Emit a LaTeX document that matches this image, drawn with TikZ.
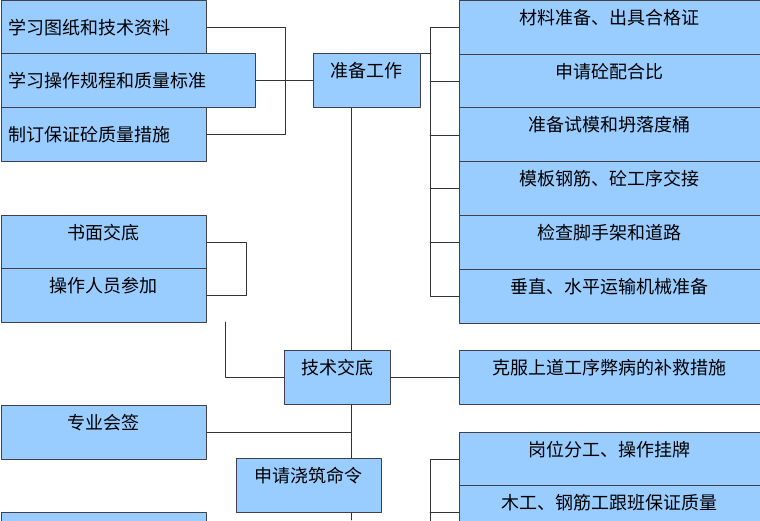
\documentclass[tikz,border=0pt]{standalone}
\usepackage{fontspec}
\newfontfamily\cjk{Noto Sans CJK SC}
\definecolor{boxblue}{rgb}{0.6,0.8,1.}
\definecolor{edgegray}{rgb}{0.25,0.25,0.3}

\begin{document}
\begin{tikzpicture}[x=1pt,y=-1pt,line cap=round,line join=round]
\tikzset{box/.style={draw=edgegray,fill=boxblue,line width=0.9pt,anchor=north west,
  minimum height=54pt,inner sep=0pt,align=center,font=\cjk\fontsize{18}{21}\selectfont},
  lbox/.style={box,align=left,text width=#1,text depth=0pt},
  link/.style={draw=black!80,line width=0.7pt}}
\useasboundingbox (0,0) rectangle (760,520);
% spine and brackets
\coordinate (spine) at (351,107);
\coordinate (bot) at (351,520);
\coordinate (bj) at (225,322);
\draw[link] (spine) -- (bot);
% left top
\node[box,minimum width=205pt,text width=190pt,align=left] (s1) at (1,0) {学习图纸和技术资料\\ };
\node[box,minimum width=205pt,text width=190pt,align=left] (s3) at (1,107) {制订保证砼质量措施\\ };
\node[box,minimum width=254pt,text width=240pt,align=left] (s2) at (1,53) {学习操作规程和质量标准\\ };
\node[box,minimum width=107pt] (prep) at (313,53) {准备工作\\ };
\draw[link] (s1.east) -- ++(78,0) |- (s3.east);
\draw[link] (s2.east) -- (prep.west);
% right column
\foreach \n/\t [count=\i from 0] in {r1/材料准备、出具合格证,r2/申请砼配合比,r3/准备试模和坍落度桶,r4/模板钢筋、砼工序交接,r5/检查脚手架和道路,r6/垂直、水平运输机械准备}
  \node[box,minimum width=301pt] (\n) at (459,{\i*53.7}) {\t\\ };
\draw[link] (prep.north east) -- ++(10,0);
\draw[link] (r1.west) -- ++(-29,0) |- (r6.west);
\foreach \n in {r2,r3,r4,r5}
  \draw[link] (\n.west) -- ++(-29,0);
% technical briefing
\node[box,minimum width=205pt] (b1) at (1,215) {书面交底\\ };
\node[box,minimum width=205pt] (b2) at (1,268) {操作人员参加\\ };
\node[box,minimum width=106pt] (tech) at (284,350) {技术交底\\ };
\node[box,minimum width=301pt] (fix) at (459,350) {克服上道工序弊病的补救措施\\ };
\draw[link] (b1.east) -- ++(39,0) |- (b2.east);
\draw[link] (bj) |- (tech.west);
\draw[link] (tech.east) -- (fix.west);
% lower part
\node[box,minimum width=205pt] (zy) at (1,405) {专业会签\\ };
\node[box,minimum width=145pt] (req) at (236,458) {申请浇筑命令\\ };
\node[box,minimum width=205pt] (zz) at (1,512) {\\ };
\node[box,minimum width=301pt] (p1) at (459,432) {岗位分工、操作挂牌\\ };
\node[box,minimum width=301pt] (p2) at (459,485) {木工、钢筋工跟班保证质量\\ };
\draw[link] (zy.east) -- (zy.east -| spine);
\draw[link] (p1.west) -- ++(-29,0) -- ++(0,70);
\draw[link] (p2.west) -- ++(-29,0);
\end{tikzpicture}
\end{document}
